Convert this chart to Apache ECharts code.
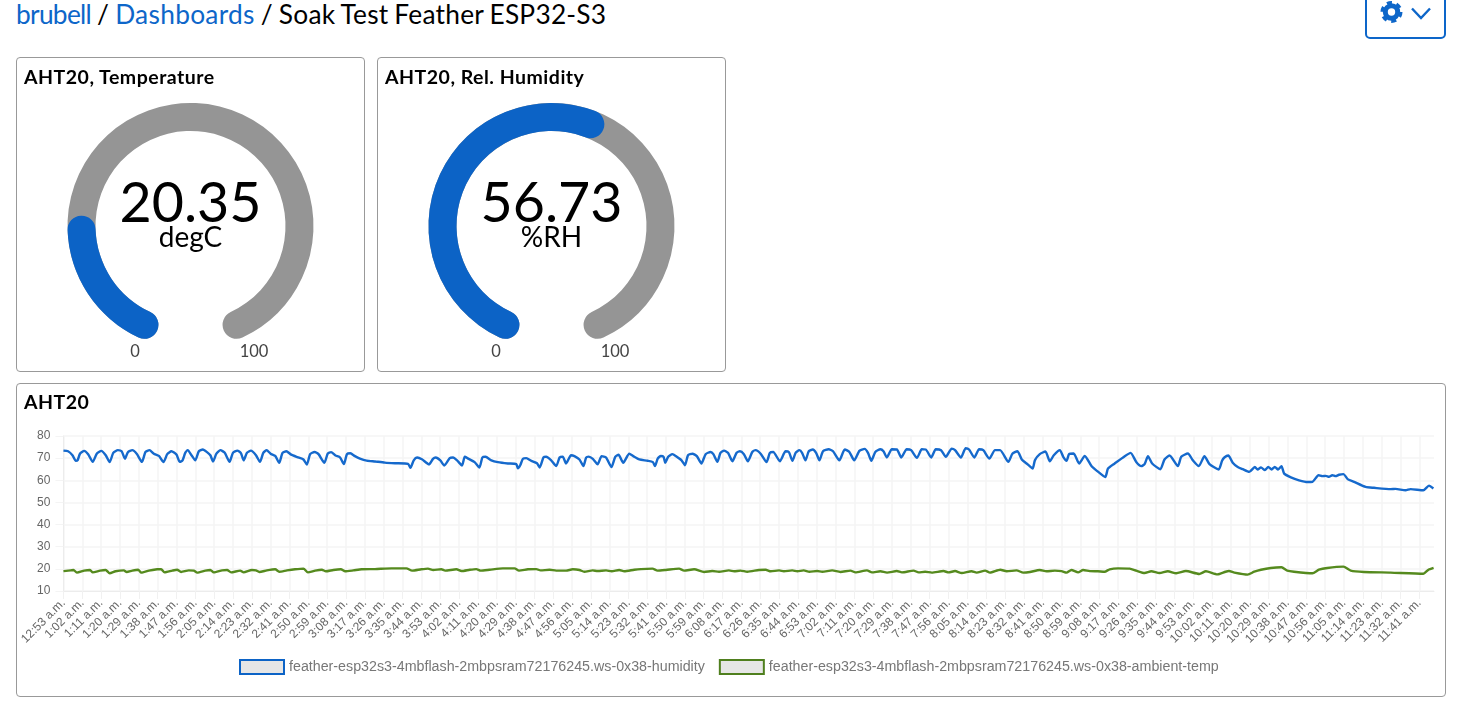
<!DOCTYPE html>
<html>
<head>
<meta charset="utf-8">
<title>Soak Test Feather ESP32-S3</title>
<script src="https://cdn.jsdelivr.net/npm/echarts@6/dist/echarts.min.js"></script>
<style>
    html, body { margin: 0; padding: 0; background: #fff; overflow: hidden; }
    body { width: 1465px; height: 703px; position: relative; font-family: Lato, sans-serif; color: #000; }
    .crumbs { position: absolute; left: 16px; top: -2px; font-size: 26.3px; letter-spacing: 0.23px; word-spacing: -1px; line-height: 32px; white-space: nowrap; }
    .crumbs a { color: #0d66c9; text-decoration: none; }
    .crumbs a.user { letter-spacing: -0.7px; }
    .crumbs a.dash { letter-spacing: 0.3px; }
    .menu { position: absolute; left: 1365px; top: -10px; width: 81px; height: 49px; box-sizing: border-box; border: 2px solid #0d66c9; border-radius: 5px; }
    .menu svg { position: absolute; left: 13px; top: 9px; }
    .panel { position: absolute; box-sizing: border-box; border: 1px solid #999; border-radius: 4px; background: #fff; }
    .panel h3 { position: absolute; left: 7px; top: 8px; margin: 0; font-size: 19.5px; letter-spacing: 0.5px; line-height: 22px; font-weight: 700; white-space: nowrap; z-index: 2; }
    .chart { position: absolute; left: 0; top: 0; width: 100%; height: 100%; }
</style>
</head>
<body>
<div class="crumbs"><a class="user" href="#">brubell</a> / <a class="dash" href="#">Dashboards</a> / Soak Test Feather ESP32-S3</div>
<div class="menu">
    <svg width="54" height="26" viewBox="0 0 54 26">
        <g fill="none" stroke="#0d66c9">
            <circle cx="11.5" cy="11" r="6.2" stroke-width="5"/>
            <circle cx="11.5" cy="11" r="9.2" stroke-width="3.6" stroke-dasharray="5 4.63"/>
            <polyline points="32,7.5 41,17 50,7.5" stroke-width="2.4"/>
        </g>
    </svg>
</div>

<div class="panel" style="left:16px;top:57px;width:349px;height:315px">
    <h3>AHT20, Temperature</h3>
    <div class="chart" id="gauge-temp"></div>
</div>
<div class="panel" style="left:377px;top:57px;width:349px;height:315px">
    <h3>AHT20, Rel. Humidity</h3>
    <div class="chart" id="gauge-hum"></div>
</div>
<div class="panel" style="left:16px;top:383px;width:1430px;height:314px">
    <h3 style="top:7px">AHT20</h3>
    <div class="chart" id="line-chart"></div>
</div>

<script>
const BLUE = '#0c63c6';
const GREEN = '#4f7f1e';

const tempReading = 20.35;
const humReading = 56.73;
const gaugeMin = 0;
const gaugeMax = 100;

const tickLabels = ['12:53', '1:02', '1:11', '1:20', '1:29', '1:38', '1:47', '1:56', '2:05', '2:14', '2:23', '2:32',
    '2:41', '2:50', '2:59', '3:08', '3:17', '3:26', '3:35', '3:44', '3:53', '4:02', '4:11', '4:20', '4:29', '4:38',
    '4:47', '4:56', '5:05', '5:14', '5:23', '5:32', '5:41', '5:50', '5:59', '6:08', '6:17', '6:26', '6:35', '6:44',
    '6:53', '7:02', '7:11', '7:20', '7:29', '7:38', '7:47', '7:56', '8:05', '8:14', '8:23', '8:32', '8:41', '8:50',
    '8:59', '9:08', '9:17', '9:26', '9:35', '9:44', '9:53', '10:02', '10:11', '10:20', '10:29', '10:38', '10:47',
    '10:56', '11:05', '11:14', '11:23', '11:32', '11:41'];

// [minutes since 12:53, value]
const humidityPoints = [
    [0,73.4],[2.2,73.1],[4.3,71.3],[5.9,68.8],[6.8,69.1],[7.9,72],[9.9,73.3],[11.8,71.8],[14,68.3],[15.9,72],[18.1,73.3],
    [20.2,71.3],[22.1,68.2],[23.8,72.4],[26,73.6],[27.8,73.1],[29.4,69.7],[30.8,72.7],[32.9,73.6],[35,72],[37.5,68.3],
    [39.2,72.8],[41.1,73.6],[43.2,72],[45.6,71],[47.8,68.2],[49.6,71.8],[51.6,73.1],[54,71.6],[55.6,68.3],[56.9,69],
    [58.2,72.4],[59.4,73.6],[61.2,71.3],[63,69],[64.7,73.1],[66.6,73.9],[68.6,72.7],[70.2,71.3],[71.5,68.5],[73.1,72],
    [75,73.6],[77,72.5],[79.4,68.3],[81,72.4],[83.1,73.4],[84.8,72.3],[86.1,69],[87.7,72.4],[89.6,73.4],
    [92,71.3],[93.9,68.3],[95.5,72.4],[97.1,73.6],[99,72],[101.2,71],[103.1,67.9],[104.7,72.4],[106.5,73.1],[108.8,71.6],
    [112.3,70.3],[114.7,69.4],[116.3,67.1],[117.9,71.8],[120,72.8],[121.9,71.8],[124.7,67.9],[126.3,72],[127.9,72.7],
    [130,71.2],[132.2,70.3],[134,67.3],[135.5,71.8],[137.1,72.2],[139.3,70.9],[141.7,69.8],[144.9,68.9],[148.9,68.5],
    [153.6,68],[158.4,67.7],[164.7,67.4],[165.8,65.6],[167.4,69],[169,70.3],[171.3,69.5],[174.7,67.2],[176.6,69.7],
    [177.9,70.3],[180.1,69],[182,66.7],
    [184.6,70],[186.2,70.3],[188.1,69],[190.5,66.7],[191.8,70.6],[193.4,69.8],[196.5,68.2],[198.8,65.8],[200.2,70.3],
    [201.7,70.6],[204.5,69],[207.6,68.2],[212.4,67.6],[216.4,67.3],[217.2,65.4],[218.3,66.8],[219.6,69.7],[221.2,70],
    [223.6,68.8],[226.3,67.7],[227.6,65.8],[229.4,70.3],[230.7,70.6],[233.1,69],[235.5,66.4],[237.1,70.3],[238.6,70.7],
    [240.2,67.6],[242.6,71.3],[244.2,70.9],[246.6,69.4],[248.5,66.4],[249.8,70.3],[251,70.7],[253,69.7],[255.3,67.2],
    [257.2,70.9],[259.3,70.3],[261.9,66],[263.7,70.6],[265.3,71.5],[267.5,67.9],[270.4,72],[272.3,70.9],[275.2,69.4],
    [279.2,68.8],[281.7,68.2],[282.7,66.4],[284,69.8],[285.5,71],[286.8,70.6],[287.6,67.9],[289,70.6],[291,71.8],
    [293.1,70.6],[295.4,69],[297,66.8],[298.5,71.3],[300.6,72],[302.7,70.9],[304.9,67.6],[306.9,71.8],[309.3,72.8],
    [310.6,71.8],[312.5,68.3],[314,72.4],[315.7,73.4],[317.6,72.4],[319.7,68.6],[321.7,72.4],[323.3,73.1],[325.2,71.8],
    [327.1,68.6],[329.2,72.8],[330.8,73.6],[333.2,72],[336,68.2],[337.6,72.4],[339.2,72.8],[342.4,68.6],[345.1,73.1],
    [346.7,72.7],[348.4,68.8],[349.9,72.4],[351.7,73.6],[353,72.4],[354.6,69],[356.2,73.1],[358.1,73.9],[359.7,72.4],
    [361.3,69],[363,73.1],[365.7,74],[367.8,73.1],
    [370.8,69],[373.4,73.9],[375.6,72.8],[377.9,69],[380.4,73.3],[382.9,74.2],[384.5,72.4],[386.1,68.8],[388,72.8],
    [390.4,74],[391.9,73.1],[393.5,70.3],[395.9,74],[398.3,73.9],[400.4,70.3],[403,74],[405.1,73.6],[407.9,70.1],
    [410.2,74],[412.1,73.9],[414.7,70.3],[416.9,74],[419.4,73.6],[421.7,70.6],[424.5,74.3],[426.1,73.6],[428.9,70.3],
    [431.2,74.5],[432.8,73.9],[435.3,70.3],[437.6,74],[439.6,73.6],[442.5,69.8],[445.2,73.6],[447.6,73.6],[451.6,68.3],
    [453.5,72],[455.9,73.1],[458,69.4],[460.3,67.6],
    [461.9,66.3],[463.2,65.3],[464.3,69.1],[466.6,71.8],[469.3,73],[471.4,68.6],[473.3,71.3],[476.2,73.6],[477.8,70.6],
    [479.4,68.8],[480.6,71.8],[482.8,72.1],[485.4,67.6],[488.1,71],[491.3,66.4],[493.6,64.5],[497.9,61.5],[499.2,65.3],
    [502.4,67.6],[507.2,70.9],[510,72.4],[512.7,68.3],[515.1,66.4],[516.7,67.3],[518.3,70.9],[520.3,67.6],[524.2,65],
    [526.2,69.4],[528.6,71.2],[532.6,66.4],[534.2,70.6],[537.4,72.1],[539.7,69.1],[542.6,66.4],[545.3,70.9],[547.7,67.3],
    [552.1,64.9],[553.7,68.8],
    [554.8,70.3],[556.7,71.2],[558.8,67.9],[561.2,66],[563.6,65],[566.7,63.8],[569.4,66],[570.7,64.9],[572.3,65.8],
    [574.2,64.6],[575.8,66],[577.4,64.9],[578.9,66],[580.5,64.9],[582.1,66.4],[583.4,63],[586.6,61.3],[590.5,60],
    [594.5,59.2],[596.9,59.3],[599.8,62.3],[601.7,61.9],[603.3,62],[604.8,61.6],[606.4,62.3],[608,61.9],[609.6,62.5],
    [611.7,62.8],[613.9,60.4],[616.8,59.3],[622.3,57],[626.3,56.6],[634.3,56],[636.6,56.1],[641.4,55.5],[643.8,56],
    [649.9,55.5],[652.6,57.6],[654.7,56.3]
];

const tempPoints = [
    [0,19],[3.5,19.3],[4.8,19.5],[6.4,18.3],[9.9,19.2],[12.7,19.5],[14,18.4],[17.5,19.2],[20.2,19.5],[22.1,18],[24.9,18.9],
    [28.9,19.3],[30.2,18.6],[32.9,19.2],[35.7,19.6],[37.2,18.3],[40.8,19.2],[44.8,19.8],[46.7,19.9],[48.3,18.4],[52,19.2],
    [54.3,19.6],[56.2,18.6],[59.9,19.3],[62.3,19.2],[63.9,18.3],[67.8,19.2],[70.2,19.5],[71.8,18.4],[75.8,19.3],[78.2,19.5],
    [80.1,18.4],[84.5,19.2],[86.1,18.4],[90.1,19.5],
    [92,19.3],[93.6,18.6],[97.2,19.3],[101.2,19.8],[103.1,18.7],[106.8,19.3],[110.7,19.8],[114.7,20.1],[116.8,18.4],
    [120.3,19.2],[123.5,19.6],[125.4,18.9],[129,19.5],[132.6,19.8],[134.6,18.9],[138.5,19.3],[142.5,19.8],[148.9,19.9],
    [156.8,20.2],[163.9,20.2],[166.6,19.2],[171,19.8],[174.2,20.1],[176.7,19.5],[180.6,19.8],[182.4,19.2],
    [187.8,19.8],[190.2,19],[194.2,19.6],[197.3,19.9],[199.4,19.2],[203.7,19.6],[210,20.2],[215.6,20.2],[217.7,19.2],
    [222,19.8],[226,19.9],[228,19.3],[232.3,19.6],[235.5,19.2],[240.2,19.2],[243.4,19.8],[246.6,19.5],[248.9,18.7],
    [252.9,19.3],[255.3,19],[259.3,19.3],[262,18.9],[265.6,19.5],[268,18.9],[272.8,19.6],
    [276,19.9],[281.5,20.1],[283.9,19.2],[287.9,19.5],[294.2,20.1],[296.6,19.2],[301.4,19.8],[306.2,18.6],[310.1,19],
    [313.3,18.7],[318,19.3],[320.5,18.9],[323.6,19.2],[326.8,18.7],[332.4,19.5],[335.6,19.6],[338,18.9],[342,19.3],
    [344.3,18.9],[348.3,19.3],[350.7,18.9],[353.8,19.3],[356.5,18.7],[360.2,19],[362.6,18.7],[367.4,19.3],
    [371.3,18.6],[376.1,19.2],[378.5,18.4],[384,19.3],[386.4,18.4],[390.4,18.9],[393.6,18.3],[398.3,19],[400.7,18.4],
    [406.3,19.2],[408.7,18.4],[411.8,18.7],[415,18.3],[420.6,19],[423,18.4],[426.1,19],[429.3,18.1],[434,18.9],[436.4,18.3],
    [440.5,19.2],[442.8,18.3],[447.7,19.6],[450.8,18.9],[455.5,19.3],[458.7,18.3],
    [461.9,18.6],[466.6,19.5],[469.8,18.9],[473.8,19.2],[477,19],[479.4,18.3],[481.7,19.5],[484.9,18.4],[487.3,19.5],
    [490.5,19],[494.4,18.9],[497.6,18.7],[500,19.8],[504,20.2],[509.6,20.1],[512.7,19.2],[516.7,18.1],[519.9,18.9],
    [523.8,18.1],[527.8,18.9],[531.8,18],[536.4,19],[542.8,17.7],[546,18.9],[551.5,17.5],[555.4,18.7],[557,19],
    [559.6,18.3],[565.9,17.4],[569.1,18.7],[572.3,19.6],[577,20.4],[582.1,20.7],[584.9,19.2],[588.1,18.7],[596.9,18],
    [600,19.6],[604,20.4],[611.7,21],[615.2,19.2],[621.5,18.6],[634.3,18.3],[649.9,17.8],[652.2,19.5],[654.8,20.4]
];

const humidityName = 'feather-esp32s3-4mbflash-2mbpsram72176245.ws-0x38-humidity';
const tempName = 'feather-esp32s3-4mbflash-2mbpsram72176245.ws-0x38-ambient-temp';

function gaugeEndLabel(text, x) {
    return {
        type: 'text',
        x: x,
        y: 294,
        style: { text: String(text), fill: '#444', font: '16.5px Lato', align: 'center', verticalAlign: 'middle' }
    };
}

function createGauge(elementId, reading, unit) {
    const chart = echarts.init(document.getElementById(elementId));
    chart.setOption({
        animation: false,
        graphic: [gaugeEndLabel(gaugeMin, 118), gaugeEndLabel(gaugeMax, 237)],
        series: [{
            type: 'gauge',
            center: ['50%', 168],
            radius: 123,
            startAngle: 245,
            endAngle: -65,
            min: gaugeMin,
            max: gaugeMax,
            splitNumber: 1,
            pointer: { show: false },
            axisTick: { show: false },
            splitLine: { show: false },
            axisLabel: { show: false },
            axisLine: { roundCap: true, lineStyle: { width: 28, color: [[1, '#959595']] } },
            progress: { show: true, roundCap: true, width: 28, itemStyle: { color: BLUE } },
            title: { offsetCenter: [0, 12], fontSize: 28, color: '#000', fontFamily: 'Lato' },
            detail: {
                offsetCenter: [0, -22],
                fontSize: 55.5,
                fontWeight: 'normal',
                color: '#000',
                fontFamily: 'Lato',
                formatter: (v) => v.toFixed(2)
            },
            data: [{ value: reading, name: unit }]
        }]
    });
}

function createLineChart(elementId) {
    const chart = echarts.init(document.getElementById(elementId));
    chart.setOption({
        animation: false,
        textStyle: { fontFamily: '"Liberation Sans", Arial, sans-serif' },
        grid: { left: 44, right: 11, top: 52, bottom: 105 },
        xAxis: {
            type: 'value',
            min: 0,
            max: 655,
            interval: 9,
            axisLine: { onZero: false, lineStyle: { color: '#ececec' } },
            axisTick: { length: 8, lineStyle: { color: '#f1f1f1' } },
            axisLabel: {
                rotate: 45,
                margin: 10,
                fontSize: 12,
                color: '#666',
                showMaxLabel: false,
                hideOverlap: false,
                formatter: (v) => (tickLabels[v / 9] ? tickLabels[v / 9] + ' a.m.' : '')
            },
            splitLine: { show: true, showMaxLine: false, lineStyle: { color: '#f4f4f4', width: 1.5 } }
        },
        yAxis: {
            type: 'value',
            min: 10,
            max: 80,
            interval: 10,
            axisLine: { show: true, lineStyle: { color: '#ececec' } },
            axisTick: { show: true, length: 8, lineStyle: { color: '#f4f4f4' } },
            axisLabel: { fontSize: 12, color: '#666', margin: 13 },
            splitLine: { lineStyle: { color: '#f4f4f4', width: 1.5 } }
        },
        legend: {
            left: 217,
            top: 270,
            itemWidth: 44,
            itemHeight: 14,
            itemGap: 14,
            textStyle: { fontSize: 14.25, color: '#777' },
            data: [
                { name: humidityName, icon: 'rect', itemStyle: { color: '#e6e6e6', borderColor: BLUE, borderWidth: 2 } },
                { name: tempName, icon: 'rect', itemStyle: { color: '#e6e6e6', borderColor: GREEN, borderWidth: 2 } }
            ]
        },
        series: [
            { name: humidityName, type: 'line', data: humidityPoints, showSymbol: false, smooth: 0.2, lineStyle: { color: '#1569cc', width: 2.4, join: 'round' }, itemStyle: { color: BLUE } },
            { name: tempName, type: 'line', data: tempPoints, showSymbol: false, smooth: 0.2, lineStyle: { color: '#558a1e', width: 2.4, join: 'round' }, itemStyle: { color: GREEN } }
        ]
    });
}

createGauge('gauge-temp', tempReading, 'degC');
createGauge('gauge-hum', humReading, '%RH');
createLineChart('line-chart');
</script>
</body>
</html>
